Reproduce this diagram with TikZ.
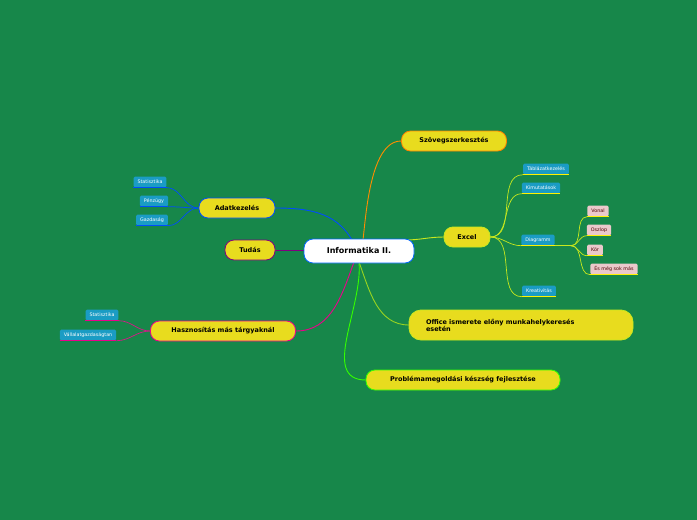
\documentclass[tikz,border=0pt]{standalone}
\usepackage{fontspec}
\setmainfont{DejaVu Sans}
\begin{document}
\begin{tikzpicture}[x=1pt,y=-1pt,
 main/.style={draw=#1,line width=0.8pt,fill=yel,rounded corners=9pt,minimum height=20pt,font=\bfseries\fontsize{6.5}{7}\selectfont,inner xsep=10pt},
 leaf/.style={fill=lb,text=white,rounded corners=1.5pt,minimum height=11pt,inner xsep=4pt,inner ysep=1.5pt,font=\fontsize{4.8}{5}\selectfont},
 pink/.style={fill=pk,text=black!70!red,rounded corners=1.5pt,minimum height=11pt,inner xsep=4pt,inner ysep=1.5pt,font=\fontsize{4.8}{5}\selectfont},
 ul/.style={line width=1.2pt,#1}]
\definecolor{bg}{HTML}{17874A}
\definecolor{yel}{HTML}{E8DC1E}
\definecolor{lb}{HTML}{1A9CC4}
\definecolor{pk}{HTML}{EBC9CB}
\definecolor{yg}{HTML}{C8E81E}
\fill[bg] (0,0) rectangle (697,520);
\useasboundingbox (0,0) rectangle (697,520);
% connectors
\draw[orange!90!yellow,line width=0.9pt] (359,240) to[out=-80,in=180] (401,141);
\draw[yg,line width=0.9pt] (405,240) to[out=0,in=180] (444,237);
\draw[yellow!60!green,line width=0.9pt] (359,262) to[out=-70,in=180] (409,325);
\draw[green!80!yellow,line width=0.9pt] (359,262) to[out=-85,in=180] (366,380);
\draw[blue!70!cyan,line width=0.9pt] (275,208) to[out=0,in=120] (352,240);
\draw[violet,line width=0.9pt] (275,250) -- (304,250);
\draw[magenta,line width=0.9pt] (296,331) to[out=0,in=-110] (354,262);
% central
\node[draw=blue!60!cyan,line width=0.8pt,fill=white,rounded corners=9pt,minimum width=110pt,minimum height=24pt,font=\bfseries\fontsize{8}{9}\selectfont] (c) at (359,251) {Informatika II.};
\node[main=orange,minimum width=105pt] (sz) at (454,141) {Szövegszerkesztés};
\node[main=yg,minimum width=46pt,inner xsep=4pt] (ex) at (467,237) {Excel};
\node[main=yg,minimum width=224pt,minimum height=30pt,rounded corners=12pt,align=left,text width=190pt] (of) at (521,325) {Office ismerete előny munkahelykeresés\\esetén};
\node[main=green!80!yellow,minimum width=194pt] (pr) at (463,380) {Problémamegoldási készség fejlesztése};
\node[main=blue!70!cyan,minimum width=76pt] (ad) at (237,208) {Adatkezelés};
\node[main=violet,minimum width=50pt] (tu) at (250,250) {Tudás};
\node[main=magenta,minimum width=145pt] (ha) at (223,331) {Hasznosítás más tárgyaknál};
% Adatkezelés leaves
\foreach \n/\t/\x/\y in {a1/Statisztika/150/182,a2/Pénzügy/154/201,a3/Gazdaság/152/220}{
 \node[leaf] (\n) at (\x,\y) {\t};
 \draw[ul=blue!70!cyan] (\n.south west) -- (\n.south east);
 \draw[blue!70!cyan,line width=0.7pt] (\n.south east) to[out=0,in=180] (ad.west);
}
% Hasznosítás leaves
\foreach \n/\t/\x/\y in {h1/Statisztika/102/315,h2/Vállalatgazdaságtan/88/335}{
 \node[leaf] (\n) at (\x,\y) {\t};
 \draw[ul=magenta] (\n.south west) -- (\n.south east);
 \draw[magenta!80!violet,line width=0.7pt] (\n.south east) to[out=0,in=180] (ha.west);
}
% Excel leaves
\foreach \n/\t/\x/\y in {e1/Táblázatkezelés/546/169,e2/Kimutatások/541/188,e3/Diagramm/538/240,e4/Kreativitás/539/291}{
 \node[leaf] (\n) at (\x,\y) {\t};
 \draw[ul=yellow] (\n.south west) -- (\n.south east);
 \draw[yg,line width=0.7pt] (ex.east) to[out=0,in=180] (\n.south west);
}
\coordinate (dg) at ([xshift=16pt]e3.south east);
\foreach \n/\t/\x/\y in {p1/Vonal/598/211,p2/Oszlop/599/230,p3/Kör/595/250,p4/És még sok más/614/269}{
 \node[pink] (\n) at (\x,\y) {\t};
 \draw[ul=yellow] (\n.south west) -- (\n.south east);
 \draw[yg,line width=0.7pt] (dg) to[out=0,in=180] (\n.south west);
}
\draw[yg,line width=0.7pt] (e3.south east) -- (dg);
\end{tikzpicture}
\end{document}
